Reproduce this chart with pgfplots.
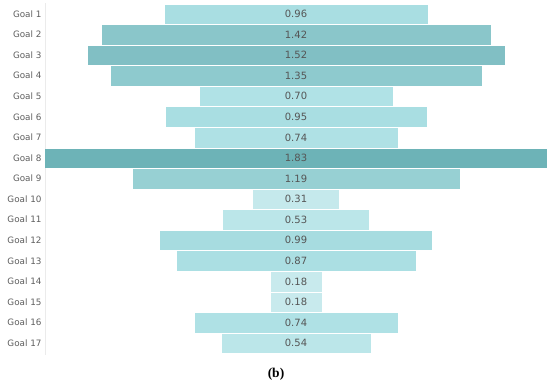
\documentclass[border=0pt]{standalone}
\usepackage{fontspec}
\setmainfont{DejaVu Sans}
\newfontfamily\capfont{Liberation Serif}
\usepackage{pgfplots}
\pgfplotsset{compat=1.18}
\definecolor{c1}{HTML}{A9DEE2}
\definecolor{c2}{HTML}{8AC6CA}
\definecolor{c3}{HTML}{81BFC4}
\definecolor{c4}{HTML}{8ECACE}
\definecolor{c5}{HTML}{B0E2E6}
\definecolor{c6}{HTML}{A9DEE2}
\definecolor{c7}{HTML}{AFE1E5}
\definecolor{c8}{HTML}{6DB3B7}
\definecolor{c9}{HTML}{97D0D3}
\definecolor{c10}{HTML}{C5E9EC}
\definecolor{c11}{HTML}{BBE6E9}
\definecolor{c12}{HTML}{A7DCE0}
\definecolor{c13}{HTML}{ABDFE3}
\definecolor{c14}{HTML}{C8EAED}
\definecolor{c15}{HTML}{C8EAED}
\definecolor{c16}{HTML}{AFE1E5}
\definecolor{c17}{HTML}{BBE6E9}
\definecolor{ticktext}{HTML}{5E5E5E}
\definecolor{valtext}{HTML}{555555}
\definecolor{axisline}{HTML}{EBEBEB}
% one centred bar: goal index #1, value #2, colour #3
\newcommand\goalbar[3]{%
  \addplot[fill=#3, draw=#3, line width=0.2pt, x filter/.expression={x/2}] coordinates {(#2,#1)};
  \addplot[fill=#3, draw=#3, line width=0.2pt, x filter/.expression={-x/2}] coordinates {(#2,#1)};
}
\begin{document}
\begin{tikzpicture}
\path[use as bounding box] (0,0) rectangle (550pt,388pt);
\begin{axis}[
  at={(45pt,33pt)}, anchor=south west,
  scale only axis, width=502pt, height=352pt,
  xbar, bar shift=0pt, bar width=0.9,
  xmin=-0.917, xmax=0.917,
  ymin=0.465, ymax=17.58, y dir=reverse,
  axis x line=none, axis y line*=left,
  axis line style={draw=axisline, line width=0.8pt},
  xtick=\empty,
  ytick={1,...,17},
  yticklabels={Goal 1,Goal 2,Goal 3,Goal 4,Goal 5,Goal 6,Goal 7,Goal 8,Goal 9,Goal 10,Goal 11,Goal 12,Goal 13,Goal 14,Goal 15,Goal 16,Goal 17},
  major tick length=0pt,
  yticklabel style={font=\fontsize{8.8}{10}\selectfont, text=ticktext},
  clip=false,
]
\goalbar{1}{0.96}{c1}
\goalbar{2}{1.42}{c2}
\goalbar{3}{1.52}{c3}
\goalbar{4}{1.35}{c4}
\goalbar{5}{0.70}{c5}
\goalbar{6}{0.95}{c6}
\goalbar{7}{0.74}{c7}
\goalbar{8}{1.83}{c8}
\goalbar{9}{1.19}{c9}
\goalbar{10}{0.31}{c10}
\goalbar{11}{0.53}{c11}
\goalbar{12}{0.99}{c12}
\goalbar{13}{0.87}{c13}
\goalbar{14}{0.18}{c14}
\goalbar{15}{0.18}{c15}
\goalbar{16}{0.74}{c16}
\goalbar{17}{0.54}{c17}
\addplot[only marks, mark=*, mark size=0pt, mark options={draw=none,fill=none},
  nodes near coords, point meta=explicit symbolic,
  every node near coord/.style={anchor=center, font=\fontsize{10}{12}\selectfont, text=valtext}]
  coordinates {
  (0,1) [0.96] (0,2) [1.42] (0,3) [1.52] (0,4) [1.35] (0,5) [0.70]
  (0,6) [0.95] (0,7) [0.74] (0,8) [1.83] (0,9) [1.19] (0,10) [0.31]
  (0,11) [0.53] (0,12) [0.99] (0,13) [0.87] (0,14) [0.18] (0,15) [0.18]
  (0,16) [0.74] (0,17) [0.54]};
\end{axis}
\node[font=\capfont\bfseries\fontsize{13.5}{15}\selectfont, text=black] at (276pt,14pt) {(b)};
\end{tikzpicture}
\end{document}
